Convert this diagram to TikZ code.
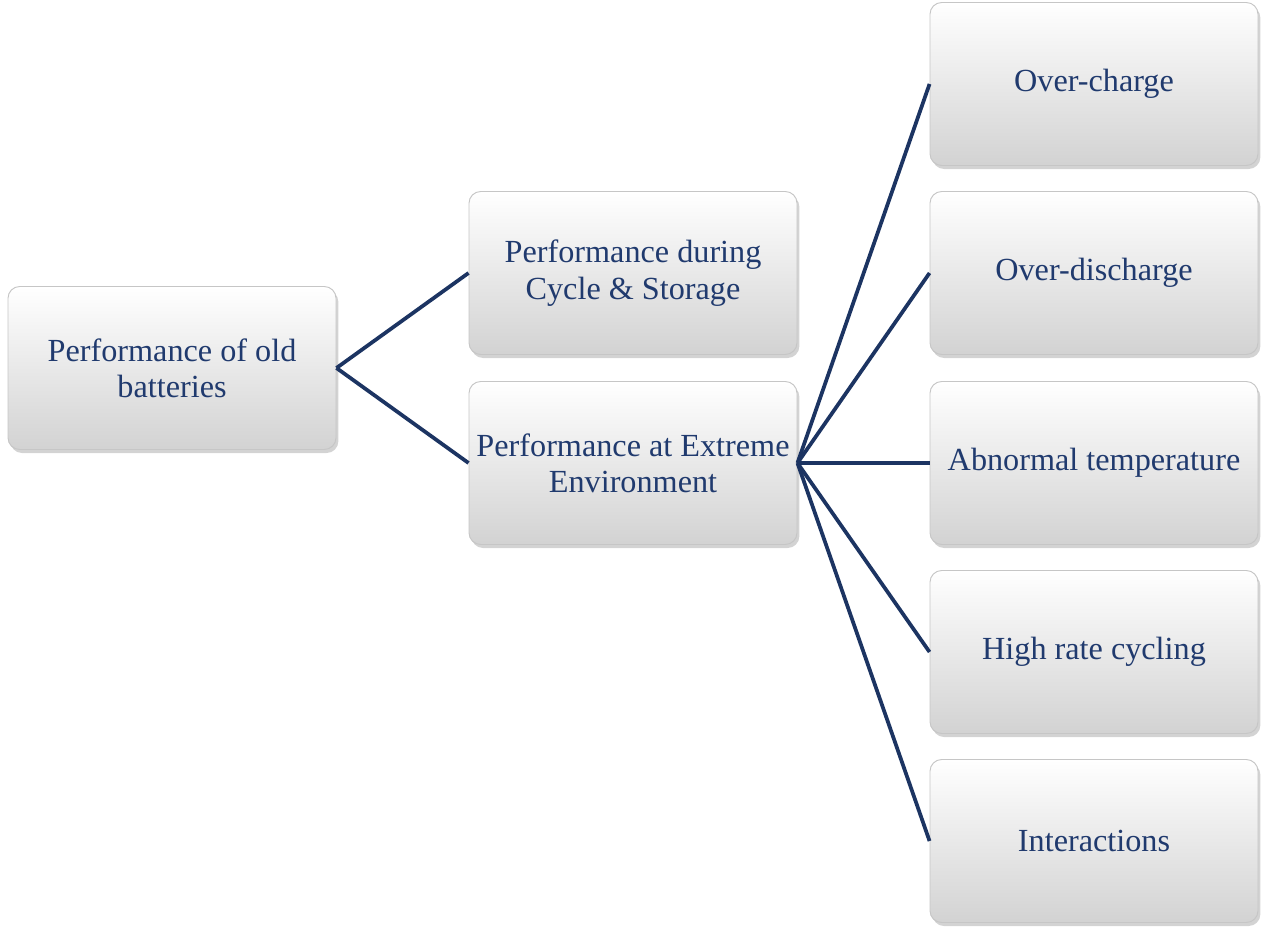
\documentclass[tikz,border=0pt]{standalone}
\usepackage{fontspec}
\setmainfont{Liberation Serif}
\usetikzlibrary{shadows}
\definecolor{txt}{RGB}{32,58,110}
\definecolor{ln}{RGB}{28,52,98}
\begin{document}
\begin{tikzpicture}[x=0.03cm,y=-0.03cm,
  box/.style={draw=gray!45,line width=0.8pt,rounded corners=10pt,minimum width=328*0.03cm,minimum height=163*0.03cm,
    top color=white,bottom color=gray!35,align=center,text=txt,font=\fontsize{27.5}{31}\selectfont,
    drop shadow={shadow xshift=2pt,shadow yshift=-3pt,opacity=0.35}},
  con/.style={draw=ln,line width=3.2pt}]
\useasboundingbox (0,0) rectangle (1266,937);
\node[box] (root) at (172,368) {Performance of old\\batteries};
\node[box] (p1) at (633,273) {Performance during\\Cycle \& Storage};
\node[box] (p2) at (633,463) {Performance at Extreme\\Environment};
\node[box] (l1) at (1094,84) {Over-charge};
\node[box] (l2) at (1094,273) {Over-discharge};
\node[box] (l3) at (1094,463) {Abnormal temperature};
\node[box] (l4) at (1094,652) {High rate cycling};
\node[box] (l5) at (1094,841) {Interactions};
\draw[con] (root.east) -- (p1.west);
\draw[con] (root.east) -- (p2.west);
\foreach \l in {l1,l2,l3,l4,l5} \draw[con] (p2.east) -- (\l.west);
\end{tikzpicture}
\end{document}
